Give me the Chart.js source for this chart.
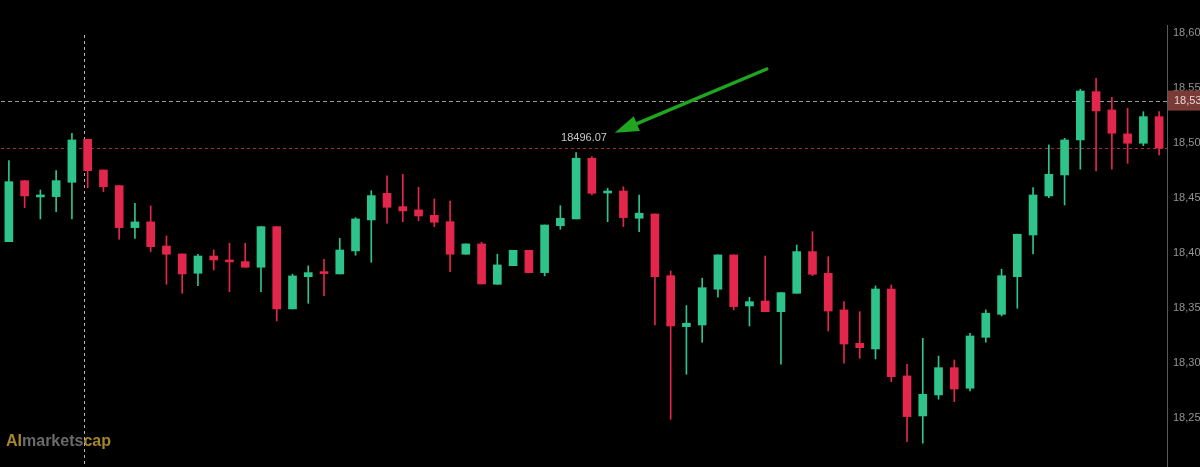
<!DOCTYPE html>
<html>
<head>
<meta charset="utf-8">
<script src="https://cdn.jsdelivr.net/npm/chart.js@4.4.1/dist/chart.umd.min.js"></script>
<style>
    html, body { margin: 0; padding: 0; background: #000; }
    #wrap { width: 1200px; height: 467px; }
</style>
</head>
<body>
<div id="wrap"><canvas id="priceChart" width="1200" height="467"></canvas></div>
<script>
// OHLC, one entry per candle
const opens = [
    18410.5, 18466, 18451.2, 18451.5, 18464.5, 18503.6, 18475.7, 18461.5, 18423.3, 18428.5,
    18406.6, 18399.4, 18381.8, 18397.5, 18393.9, 18392.4, 18387.3, 18424.2, 18349.4, 18378.7,
    18383, 18381.2, 18402.1, 18430.3, 18454.5, 18442.4, 18439.4, 18434.5, 18428.7, 18399.1,
    18408.5, 18371.8, 18388.7, 18402.7, 18382.4, 18425.1, 18431.2, 18486.4, 18454.8, 18456.6,
    18431.8, 18435.7, 18379.6, 18333.3, 18334.8, 18367.3, 18398.5, 18352.1, 18356.6, 18346.9,
    18363.6, 18401.5, 18381.8, 18348.5, 18318.2, 18313, 18367.5, 18288.5, 18252.1, 18271.2,
    18296, 18277.3, 18323.6, 18344.5, 18378.7, 18416.6, 18452.1, 18471.2, 18503, 18546.9,
    18530.3, 18508.5, 18500, 18524.2
];
const highs = [
    18484.2, 18466, 18457.5, 18475.1, 18509.1, 18503.6, 18475.7, 18461.5, 18445.5, 18443,
    18415.7, 18399.4, 18399.1, 18403, 18409.1, 18409.1, 18424.2, 18424.2, 18381, 18388.5,
    18394.5, 18413.6, 18432.4, 18456.9, 18470.3, 18471.8, 18460, 18449.4, 18447.5, 18408.5,
    18410, 18399.1, 18402.7, 18402.7, 18425.7, 18443.3, 18491.5, 18487.8, 18459.1, 18460.5,
    18453, 18435.7, 18383.9, 18352.4, 18377.3, 18398.5, 18398.5, 18360, 18397.5, 18364.2,
    18407.5, 18419.6, 18396.9, 18356, 18346.9, 18370.3, 18371.2, 18299.1, 18322.7, 18306.6,
    18303, 18327.3, 18348.5, 18385.5, 18417.3, 18459.6, 18498.5, 18504.5, 18549.1, 18559.1,
    18541.8, 18531.8, 18528.7, 18528.7
];
const lows = [
    18410.5, 18441.5, 18431.2, 18437.8, 18431.2, 18459.6, 18456, 18412.7, 18413.6, 18401.5,
    18371.8, 18363.6, 18370.5, 18384.8, 18365.1, 18387.3, 18365.1, 18338.5, 18349.4, 18354.5,
    18361.5, 18381.2, 18398.2, 18391.8, 18427.3, 18428.7, 18429.6, 18424.2, 18383.3, 18399.1,
    18372.1, 18371.8, 18388.7, 18382.4, 18379.4, 18421.8, 18431.2, 18453, 18428.7, 18424.2,
    18419.6, 18334.8, 18249.1, 18290, 18319.1, 18360, 18348.5, 18333.9, 18346.9, 18299.1,
    18363.6, 18379.6, 18329.4, 18300, 18304.5, 18303.9, 18283.3, 18228.7, 18227.3, 18267.3,
    18265.1, 18274.8, 18319.1, 18343, 18350, 18399.4, 18450.5, 18443.9, 18476.4, 18474.8,
    18476.4, 18481.8, 18497.8, 18489.4
];
const closes = [
    18465.1, 18452.1, 18452.1, 18466, 18503, 18475.1, 18460.5, 18423.3, 18428.5, 18406,
    18399.1, 18381.2, 18397.5, 18393.9, 18392.1, 18387.3, 18424.2, 18349.4, 18379.4, 18382.4,
    18381.5, 18403, 18431.2, 18452.4, 18441.8, 18438.5, 18433.9, 18428.2, 18399.1, 18408.5,
    18372.1, 18389.4, 18402.7, 18382.4, 18425.7, 18431.8, 18486.4, 18454.5, 18456, 18432.4,
    18436.4, 18378.7, 18333.9, 18336.4, 18368.7, 18398.5, 18351.5, 18356, 18346.9, 18364.2,
    18401.5, 18380.9, 18347.5, 18317.5, 18314.2, 18367.5, 18287.8, 18251.5, 18271.8, 18296,
    18276.6, 18324.8, 18345.5, 18379.6, 18417.3, 18453, 18471.8, 18503, 18547.5, 18529.4,
    18509.1, 18500, 18524.2, 18495.5
];
const tickValues = [18250, 18300, 18350, 18400, 18450, 18500, 18550, 18600];

const markedPrice = 18496.07;      // red dashed line + arrow label
const lastPrice = 18538.8;         // grey dashed line + price box
const crosshairIndex = 4.77;

const UP = '#2fc38c';
const DOWN = '#e3264b';

const labels = opens.map((_, i) => i);
const colors = opens.map((o, i) => closes[i] >= o ? UP : DOWN);

const overlay = {
    id: 'overlay',
    beforeDatasetsDraw(chart) {
        const { ctx, chartArea, scales: { x, y } } = chart;
        ctx.save();

        // watermark
        ctx.font = 'bold 16px "Liberation Sans", Arial, sans-serif';
        ctx.textBaseline = 'alphabetic';
        let wx = 6;
        const wy = 446;
        [['AI', '#a5862a'], ['markets', '#6a6a6a'], ['cap', '#a5862a']].forEach(([t, c]) => {
            ctx.fillStyle = c;
            ctx.fillText(t, wx, wy);
            wx += ctx.measureText(t).width;
        });

        // horizontal reference lines
        ctx.lineWidth = 1;
        ctx.setLineDash([4, 3]);
        ctx.strokeStyle = '#9a9a9a';
        let py = Math.round(y.getPixelForValue(lastPrice)) + 0.5;
        ctx.beginPath();
        ctx.moveTo(chartArea.left, py);
        ctx.lineTo(chartArea.right, py);
        ctx.stroke();

        ctx.setLineDash([3, 3]);
        ctx.strokeStyle = '#a3303d';
        py = Math.round(y.getPixelForValue(markedPrice)) + 0.5;
        ctx.beginPath();
        ctx.moveTo(chartArea.left, py);
        ctx.lineTo(chartArea.right, py);
        ctx.stroke();

        // vertical crosshair
        ctx.setLineDash([3, 3]);
        ctx.strokeStyle = '#b5b5b5';
        const cx = Math.round(x.getPixelForValue(crosshairIndex)) + 0.5;
        ctx.beginPath();
        ctx.moveTo(cx, 35);
        ctx.lineTo(cx, chart.height);
        ctx.stroke();

        ctx.restore();
    },
    afterDraw(chart) {
        const { ctx, chartArea, scales: { x, y } } = chart;
        ctx.save();

        // price box on the axis
        const by = y.getPixelForValue(lastPrice);
        ctx.fillStyle = '#7a3a36';
        ctx.fillRect(chartArea.right + 1, by - 10, chart.width - chartArea.right, 20);
        ctx.fillStyle = '#e6d6d4';
        ctx.font = '11px "Liberation Sans", Arial, sans-serif';
        ctx.textBaseline = 'middle';
        ctx.fillText('18,538.80', chartArea.right + 7, by);

        // text label above the marked line
        const ly = y.getPixelForValue(markedPrice);
        ctx.fillStyle = '#c8c8c8';
        ctx.textAlign = 'center';
        ctx.fillText(markedPrice.toFixed(2), x.getPixelForValue(36.5), ly - 10);

        // green arrow pointing at the label
        const tx = x.getPixelForValue(38.45), ty = y.getPixelForValue(18509.5);
        const sx = x.getPixelForValue(48.1), sy = y.getPixelForValue(18567.5);
        const ang = Math.atan2(ty - sy, tx - sx);
        const head = 24, half = 8;
        const bx = tx - head * Math.cos(ang), byy = ty - head * Math.sin(ang);
        ctx.strokeStyle = '#1fa51f';
        ctx.fillStyle = '#1fa51f';
        ctx.lineWidth = 3.5;
        ctx.lineCap = 'round';
        ctx.beginPath();
        ctx.moveTo(sx, sy);
        ctx.lineTo(bx, byy);
        ctx.stroke();
        ctx.beginPath();
        ctx.moveTo(tx, ty);
        ctx.lineTo(bx + half * Math.sin(ang), byy - half * Math.cos(ang));
        ctx.lineTo(bx - half * Math.sin(ang), byy + half * Math.cos(ang));
        ctx.closePath();
        ctx.fill();

        ctx.restore();
    }
};

new Chart(document.getElementById('priceChart'), {
    type: 'bar',
    data: {
        labels: labels,
        datasets: [
            {
                label: 'body',
                data: opens.map((o, i) => [o, closes[i]]),
                backgroundColor: colors,
                barThickness: 8,
                minBarLength: 2,
                grouped: false,
                borderWidth: 0
            },
            {
                label: 'wick',
                data: lows.map((l, i) => [l, highs[i]]),
                backgroundColor: colors,
                barThickness: 1,
                grouped: false,
                borderWidth: 0
            }
        ]
    },
    options: {
        responsive: false,
        animation: false,
        events: [],
        layout: { padding: { left: 1, top: 25, right: 0, bottom: 0 } },
        plugins: {
            legend: { display: false },
            tooltip: { enabled: false }
        },
        scales: {
            x: {
                display: false,
                offset: true
            },
            y: {
                position: 'right',
                min: 18205.7,
                max: 18607.5,
                afterBuildTicks: axis => {
                    axis.ticks = tickValues.map(v => ({ value: v }));
                },
                afterFit: scale => {
                    scale.width = 33;
                    scale.paddingTop = 0;
                    scale.paddingBottom = 0;
                },
                grid: { display: false, drawTicks: false },
                border: { display: true, color: '#5a5a5a', width: 1 },
                ticks: {
                    color: '#939393',
                    padding: 6,
                    font: { family: '"Liberation Sans", Arial, sans-serif', size: 11 },
                    callback: v => v.toLocaleString('en-US')
                }
            }
        }
    },
    plugins: [overlay]
});
</script>
</body>
</html>
